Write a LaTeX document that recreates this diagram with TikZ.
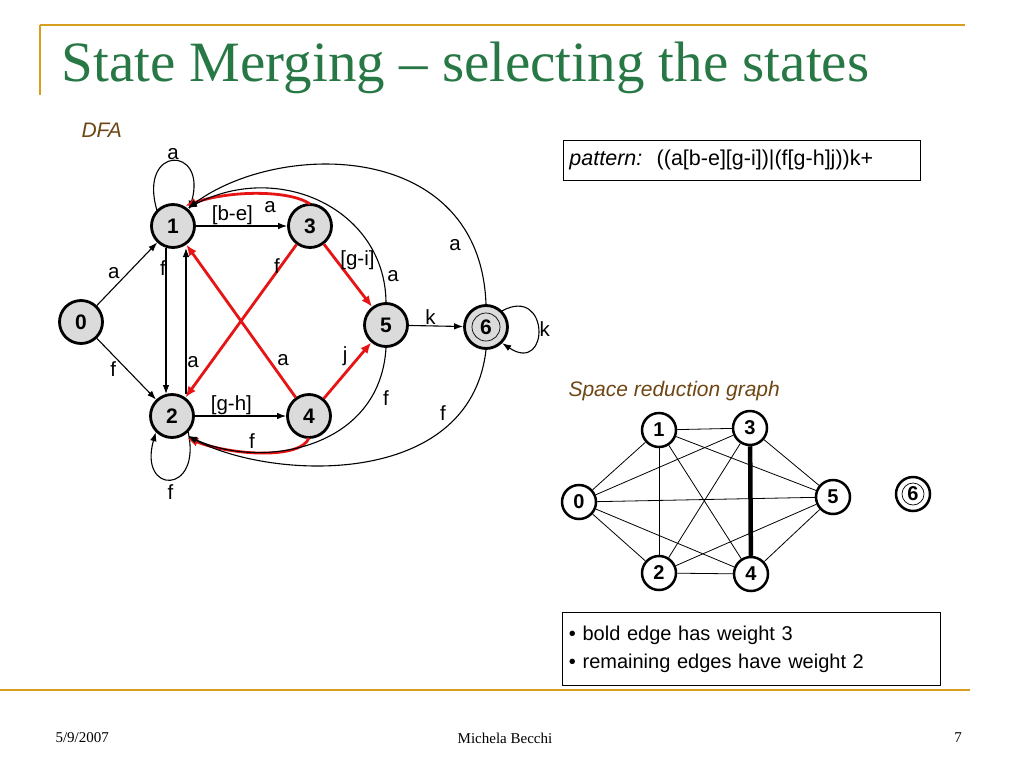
\documentclass[tikz,border=0pt]{standalone}
\usepackage{fontspec}
\setmainfont{Liberation Sans}
\newfontfamily\seriff{Liberation Serif}
\usetikzlibrary{arrows.meta}
\definecolor{gold}{RGB}{214,160,30}
\definecolor{ttl}{RGB}{40,120,70}
\definecolor{brn}{RGB}{110,70,20}
\definecolor{sred}{RGB}{230,20,20}
\begin{document}
\begin{tikzpicture}[x=1pt,y=-1pt,
 st/.style={circle,draw,line width=2.8pt,fill=black!14,minimum size=43pt,inner sep=0pt,font=\bfseries\fontsize{21}{21}\selectfont},
 rs/.style={circle,draw,line width=2.5pt,fill=white,minimum size=34pt,inner sep=0pt,font=\bfseries\fontsize{20}{20}\selectfont},
 ar/.style={-{Latex[length=9pt,width=6.5pt]},line width=1.1pt},
 rr/.style={-{Latex[length=11pt,width=9pt]},line width=2.8pt,sred},
 lb/.style={font=\fontsize{20.5}{20.5}\selectfont,inner sep=1pt},
 re/.style={line width=0.8pt}]
\useasboundingbox (0,0) rectangle (1024,768);
\fill[white] (0,0) rectangle (1024,768);
\draw[gold,line width=2pt] (40,25) -- (965,25);
\draw[gold,line width=2pt] (40,25) -- (40,95);
\draw[gold,line width=2pt] (0,690) -- (970,690);
\node[anchor=west,ttl,font=\seriff\fontsize{57}{57}\selectfont] (title) at (58,68) {State Merging \textendash\ selecting the states};
\node[anchor=west,font=\seriff\fontsize{15}{15}\selectfont] (date) at (52,738) {5/9/2007};
\node[font=\seriff\fontsize{15}{15}\selectfont] (auth) at (505,738) {Michela Becchi};
\node[font=\seriff\fontsize{15}{15}\selectfont] (pg) at (958,738) {7};
\node[anchor=west,brn,font=\itshape\fontsize{21}{21}\selectfont] (dfa) at (78,130) {DFA};
\node[anchor=west,brn,font=\itshape\fontsize{21}{21}\selectfont] (srg) at (565,391) {Space reduction graph};
\node[draw,line width=0.9pt,anchor=north west,minimum width=357pt,minimum height=40pt,text width=345pt,align=left,font=\fontsize{21.5}{21.5}\selectfont] (pat) at (563,140) {\textit{pattern:}\ \ ((a[b-e][g-i])|(f[g-h]j))k+};
\node[draw,line width=0.9pt,anchor=north west,minimum width=378pt,minimum height=73pt,text width=365pt,align=left,font=\fontsize{20}{20}\selectfont] (bul) at (562,612) {\textbullet\ bold edge has weight 3\\[8pt]\textbullet\ remaining edges have weight 2};
% DFA
\node[st] (n0) at (81,322) {0};
\node[st] (n1) at (173,226) {1};
\node[st] (n3) at (310,226) {3};
\node[st] (n5) at (386,325) {5};
\node[st] (n6) at (486,327) {6};
\node[st] (n2) at (172,416) {2};
\node[st] (n4) at (309,416) {4};
\draw[line width=0.7pt] (n6) circle (14pt);
\draw[ar] (n1.north west) .. controls (138,145) and (208,145) .. (n1.north east) node[lb,pos=0.5,above] {a};
\draw[ar] (n2.south east) .. controls (202,495) and (138,495) .. (n2.south west) node[lb,pos=0.5,below=4pt] {f};
\draw[ar] (n6.north east) .. controls (550,285) and (550,375) .. (n6.south east) node[lb,pos=0.5,right] {k};
\draw[ar] (n0) -- node[lb,pos=0.4,above left] {a} (n1);
\draw[ar] (n0) -- node[lb,pos=0.35,below left] {f} (n2);
\draw[ar] (n1) -- node[lb,pos=0.4,above] {[b-e]} (n3);
\draw[ar] (166,248) -- (166,394);
\node[lb] (lf12) at (163,268) {f};
\draw[ar] (186,394) -- (186,248);
\node[lb] (la21) at (193,362) {a};
\draw[ar] (n2) -- node[lb,pos=0.4,above] {[g-h]} (n4);
\draw[ar] (n5) -- node[lb,pos=0.4,above] {k} (n6);
\draw[rr] (n3) -- (n2);
\node[lb] (lf32) at (277,266) {f};
\draw[rr] (n4) -- (n1);
\node[lb] (la41) at (283,360) {a};
\draw[rr] (n3) -- node[lb,black,pos=0.25,right=2pt] {[g-i]} (n5);
\draw[rr] (n4) -- node[lb,black,pos=0.55,above left] {j} (n5);
\draw[rr] (310,204) .. controls (290,190) and (230,190) .. (185,206);
\node[lb] (la31) at (270,207) {a};
\draw[rr] (309,438) .. controls (300,460) and (230,455) .. (187,438);
\node[lb] (lf42) at (252,441) {f};
\draw[ar] (n5.north) .. controls (385,210) and (280,160) .. (188,208);
\node[lb] (la51) at (393,276) {a};
\draw[ar] (n6.north) .. controls (480,140) and (280,140) .. (188,208);
\node[lb] (la61) at (455,245) {a};
\draw[ar] (n5.south) .. controls (380,450) and (260,470) .. (188,436);
\node[lb] (lf52) at (386,398) {f};
\draw[ar] (n6.south) .. controls (470,490) and (270,480) .. (188,436);
\node[lb] (lf62) at (443,413) {f};
% reduction graph
\node[rs] (r1) at (659,430) {1};
\node[rs] (r3) at (750,428) {3};
\node[rs] (r0) at (579,502) {0};
\node[rs] (r5) at (833,497) {5};
\node[rs] (r2) at (659,573) {2};
\node[rs] (r4) at (751,574) {4};
\node[rs] (r6) at (913,494) {6};
\draw[line width=0.7pt] (r6) circle (11pt);
\foreach \a/\b in {r0/r1,r0/r2,r0/r3,r0/r4,r0/r5,r1/r2,r1/r3,r1/r4,r1/r5,r2/r3,r2/r4,r2/r5,r3/r5,r4/r5}
  \draw[re] (\a) -- (\b);
\draw[line width=4.5pt] (r3) -- (r4);
\end{tikzpicture}
\end{document}
